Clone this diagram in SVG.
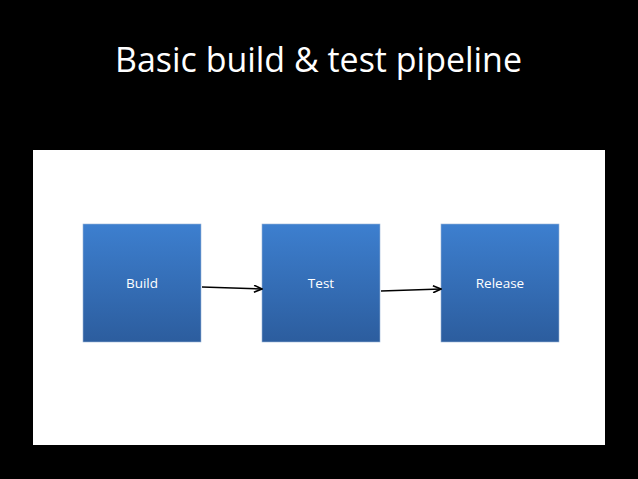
<svg xmlns="http://www.w3.org/2000/svg" width="638" height="479" viewBox="0 0 638 479">
<defs>
<linearGradient id="g" x1="0" y1="0" x2="0" y2="1">
<stop offset="0" stop-color="#3d7fcf"/>
<stop offset="1" stop-color="#2c5d9e"/>
</linearGradient>
<marker id="ah" markerWidth="10" markerHeight="8" refX="9" refY="4" orient="auto" markerUnits="userSpaceOnUse">
<path d="M1,0.5 L9,4 L1,7.5" fill="none" stroke="#000" stroke-width="1.6"/>
</marker>
<style>
.box{fill:url(#g);stroke:#9ab4d8;stroke-width:0.6}
.lbl{font-family:"Open Sans","Liberation Sans",sans-serif;font-size:13.5px;fill:#fff;text-anchor:middle}
.ttl{font-family:"Open Sans","Liberation Sans",sans-serif;font-size:35px;fill:#fff}
.conn{stroke:#000;stroke-width:1.6;fill:none;marker-end:url(#ah)}
</style>
</defs>
<rect width="638" height="479" fill="#000"/>
<text class="ttl" x="115" y="72" textLength="407" lengthAdjust="spacingAndGlyphs">Basic build &amp; test pipeline</text>
<rect x="33" y="150" width="572" height="295" fill="#fff"/>
<g id="build"><rect class="box" x="83" y="224" width="118" height="118"/><text class="lbl" x="142" y="288">Build</text></g>
<g id="test"><rect class="box" x="262" y="224" width="118" height="118"/><text class="lbl" x="321" y="288">Test</text></g>
<g id="release"><rect class="box" x="441" y="224" width="118" height="118"/><text class="lbl" x="500" y="288">Release</text></g>
<g id="connectors">
<path class="conn" d="M202,287 L262,289"/>
<path class="conn" d="M381,291 L441,289"/>
</g>
</svg>
